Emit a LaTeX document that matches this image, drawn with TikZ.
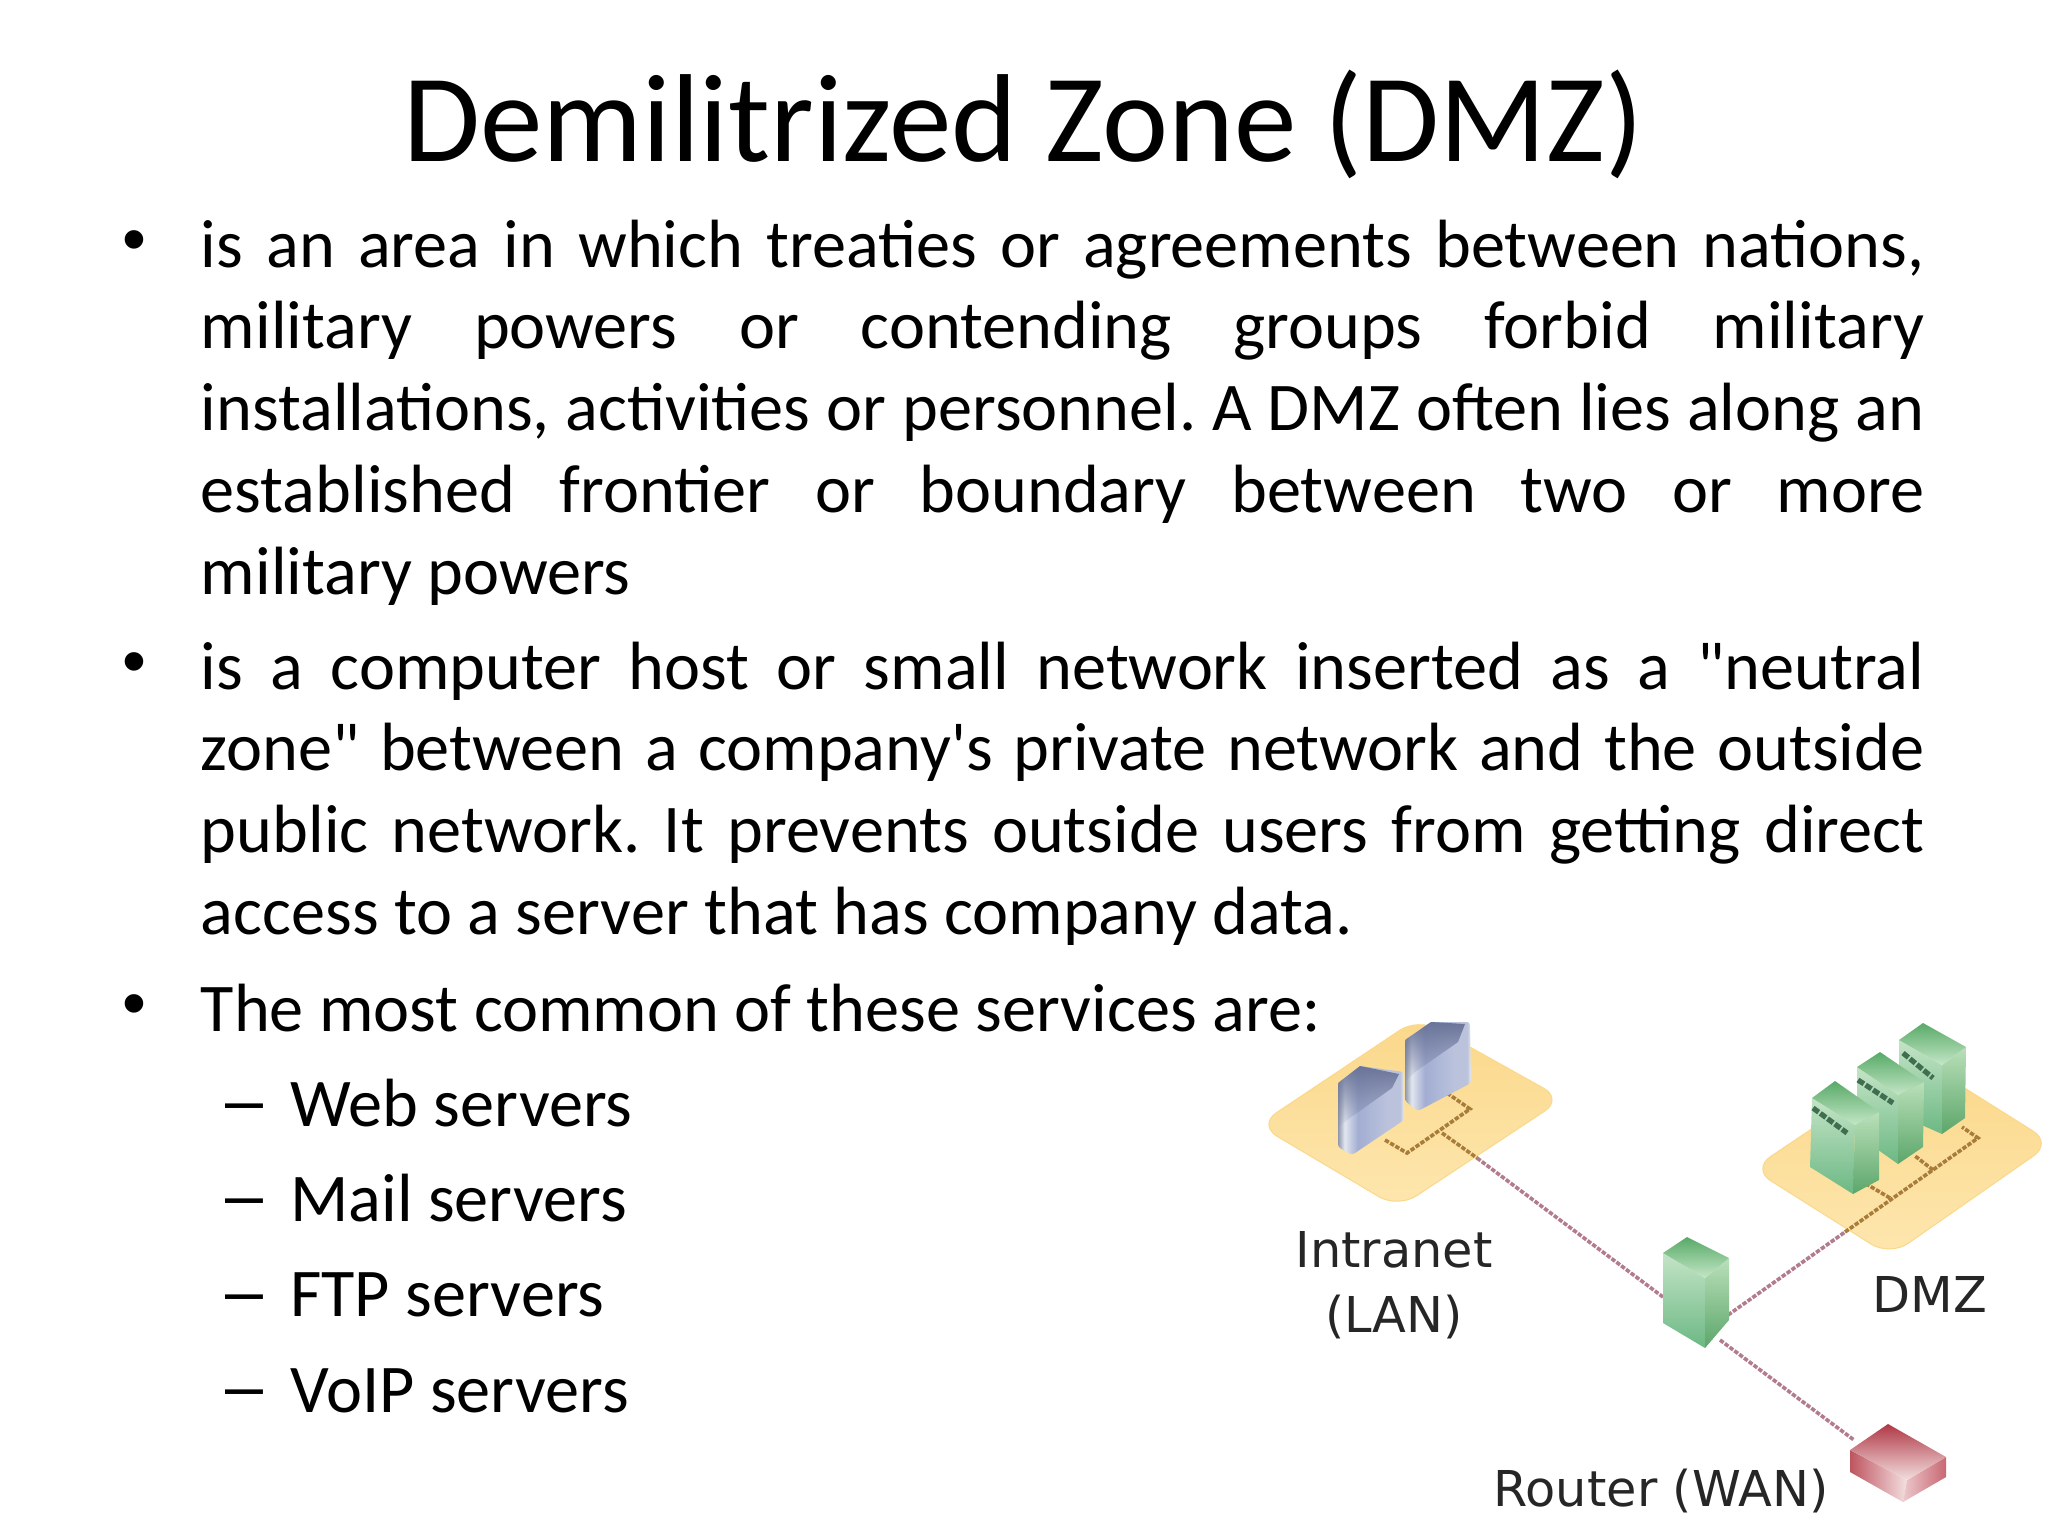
\documentclass[tikz,border=0pt]{standalone}
\usepackage{fontspec}
\setmainfont{Carlito}[Ligatures={Common,TeXOff}]
\newfontfamily\labelfont{DejaVu Sans}
\newfontfamily\markfont{Liberation Sans}
\usetikzlibrary{calc,fadings}
\definecolor{padtop}{HTML}{FBD88A}
\definecolor{padbot}{HTML}{FDE6AE}
\definecolor{wirein}{HTML}{A87C3A}
\definecolor{wireout}{HTML}{B27C8E}
\definecolor{slotgreen}{HTML}{3F6F50}
\definecolor{lavA}{HTML}{8F98AC}
\definecolor{lavB}{HTML}{E2E6EE}
\definecolor{lavC}{HTML}{A2ADD2}
\definecolor{lavD}{HTML}{BAC2DC}
\definecolor{lavE}{HTML}{E8EAF0}
\definecolor{lavdark}{HTML}{6A7498}
\pgfdeclarehorizontalshading{lavbody}{100bp}{
  color(0bp)=(lavA); color(25bp)=(lavA); color(30bp)=(lavB); color(40bp)=(lavC);
  color(62bp)=(lavD); color(72bp)=(lavD); color(75bp)=(lavE); color(100bp)=(lavE)}
\tikzset{
  x=0.5pt,y=-0.5pt,
  titletext/.style={anchor=base,inner sep=0pt,font=\fontsize{62.58}{70}\selectfont},
  paratext/.style={anchor=base west,inner sep=0pt,font=\fontsize{34.13}{41}\selectfont},
  marktext/.style={anchor=base west,inner sep=0pt,font=\markfont\fontsize{34.13}{41}\selectfont},
  netlabel/.style={anchor=center,inner sep=0pt,text=black!85,font=\labelfont\fontsize{24.7}{30}\selectfont},
  pad/.style={rounded corners=11pt,top color=padtop,bottom color=padbot,draw=padtop,line width=0.5pt},
  wirep/.style={wirein,line width=1.8pt,dash pattern=on 2.2pt off 0.8pt},
  wireq/.style={wireout,line width=1.8pt,dash pattern=on 2.2pt off 0.8pt},
  slot/.style={slotgreen,line width=2.6pt,dash pattern=on 3.5pt off 1pt},
}
\newcommand{\fullline}[1]{\hbox to 861.75pt{#1}}
\newcommand{\lastline}[1]{\hbox{#1}}
% green tower: lefttop, top, righttop, edge, leftbottom, bottom, rightbottom
\newcommand{\greentower}[7]{%
  \shade[top color={rgb,255:red,196;green,228;blue,198},bottom color={rgb,255:red,108;green,184;blue,132}]
     #1 -- #4 -- #6 -- #5 -- cycle;
  \shade[top color={rgb,255:red,186;green,224;blue,186},bottom color={rgb,255:red,92;green,166;blue,106}]
     #4 -- #3 -- #7 -- #6 -- cycle;
  \shade[top color={rgb,255:red,88;green,170;blue,104},bottom color={rgb,255:red,196;green,230;blue,198}]
     #1 -- #2 -- #3 -- #4 -- cycle;
}
% blue tower: body outline (6 points), then outline of its darker cap (6 points)
\newcommand{\bluetower}[2]{%
  \shade[shading=lavbody,rounded corners=1.5pt] #1 -- cycle;
  \fill[lavdark,path fading=south] #2 -- cycle;
}
\begin{document}
\begin{tikzpicture}
\useasboundingbox (0,0) rectangle (2048,1536);
\fill[white] (0,0) rectangle (2048,1536);

% Title
\node[titletext] (title) at (1023.5,161) {Demilitrized Zone (DMZ)};

% Body
\node[marktext] (b1) at (122,262) {•};
\node[paratext] (p1) at (200.5,267) {\frenchspacing\vtop{\baselineskip=40.95pt
  \fullline{is an area in which treaties or agreements between nations,}
  \fullline{military powers or contending groups forbid military}
  \fullline{installations, activities or personnel. A DMZ often lies along an}
  \fullline{established frontier or boundary between two or more}
  \lastline{military powers}}};
\node[marktext] (b2) at (122,684) {•};
\node[paratext] (p2) at (200.5,689) {\frenchspacing\vtop{\baselineskip=40.95pt
  \fullline{is a computer host or small network inserted as a "neutral}
  \fullline{zone" between a company's private network and the outside}
  \fullline{public network. It prevents outside users from getting direct}
  \lastline{access to a server that has company data.}}};
\node[marktext] (b3) at (122,1026) {•};
\node[paratext] (p3) at (200.5,1031) {The most common of these services are:};
\node[marktext] (d1) at (225,1123) {–};
\node[paratext] (s1) at (290,1126) {Web servers};
\node[marktext] (d2) at (225,1218) {–};
\node[paratext] (s2) at (290,1221.3) {Mail servers};
\node[marktext] (d3) at (225,1314) {–};
\node[paratext] (s3) at (290,1316.7) {FTP servers};
\node[marktext] (d4) at (225,1409) {–};
\node[paratext] (s4) at (290,1412) {VoIP servers};

% Zones
\draw[pad] (1258,1125) -- (1418,1018) -- (1563,1099) -- (1398,1208) -- cycle;
\draw[pad] (1752,1169) -- (1917,1058) -- (2052,1143) -- (1890,1256) -- cycle;

% Named junctions of the network
\coordinate (fwleft) at (1663,1297);
\coordinate (fwright) at (1728,1315);
\coordinate (fwbottom) at (1720,1340);
\coordinate (lanedge) at (1477,1158);
\coordinate (lanjoin) at (1442,1133);
\coordinate (lanbend) at (1470,1109);
\coordinate (lanlow) at (1407,1153);
\coordinate (lansa) at (1385,1140);
\coordinate (lansb) at (1447,1093);
\coordinate (dmzedge) at (1845,1232);
\coordinate (dmzja) at (1890,1198);
\coordinate (dmzjb) at (1933,1170);
\coordinate (dmzbend) at (1978,1138);
\coordinate (dmzsa) at (1868,1185);
\coordinate (dmzsb) at (1915,1156);
\coordinate (dmzsc) at (1962,1127);
\coordinate (routertop) at (1854,1440);

% Wires
\draw[wireq] (lanedge) -- (fwleft);
\draw[wireq] (fwright) -- (dmzedge);
\draw[wireq] (fwbottom) -- (routertop);
\draw[wirep] (lansb) -- (lanbend) -- (lanlow) -- (lansa);
\draw[wirep] (lanjoin) -- (lanedge);
\draw[wirep] (dmzedge) -- (dmzbend) -- (dmzsc);
\draw[wirep] (dmzja) -- (dmzsa);
\draw[wirep] (dmzjb) -- (dmzsb);

% LAN servers
\bluetower{(1405,1040) -- (1431,1022) -- (1470,1022) -- (1471,1083) -- (1418,1111) -- (1405,1101)}
          {(1405,1040) -- (1431,1022) -- (1465,1024) -- (1458,1042) -- (1415,1072) -- (1405,1082)}
\bluetower{(1338,1083) -- (1360,1066) -- (1404,1072) -- (1404,1120) -- (1352,1155) -- (1338,1147)}
          {(1338,1083) -- (1360,1066) -- (1399,1074) -- (1392,1088) -- (1350,1118) -- (1338,1128)}

% DMZ servers
\greentower{(1899,1040)}{(1923,1023)}{(1966,1047)}{(1942,1065)}{(1899,1115)}{(1942,1134)}{(1965,1118)}
\draw[slot] (1903,1053) -- (1933,1078);
\greentower{(1857,1067)}{(1880,1052)}{(1924,1082)}{(1898,1095)}{(1857,1135)}{(1898,1164)}{(1923,1147)}
\draw[slot] (1858,1080) -- (1893,1103);
\greentower{(1812,1098)}{(1835,1081)}{(1879,1112)}{(1855,1125)}{(1810,1167)}{(1853,1194)}{(1879,1180)}
\draw[slot] (1813,1108) -- (1847,1133);

% Firewall
\greentower{(1663,1253)}{(1687,1237)}{(1729,1258)}{(1705,1278)}{(1663,1323)}{(1705,1348)}{(1729,1320)}

% Router
\shade[left color={rgb,255:red,190;green,84;blue,94},right color={rgb,255:red,244;green,224;blue,226}]
  (1850,1450) -- (1907,1480) -- (1903,1502) -- (1850,1472) -- cycle;
\shade[left color={rgb,255:red,236;green,200;blue,204},right color={rgb,255:red,200;green,104;blue,114}]
  (1907,1480) -- (1946,1457) -- (1946,1477) -- (1903,1502) -- cycle;
\shade[top color={rgb,255:red,176;green,56;blue,70},bottom color={rgb,255:red,242;green,222;blue,222}]
  (1850,1450) -- (1888,1424) -- (1946,1457) -- (1907,1480) -- cycle;

% Labels
\node[netlabel] (lanA) at (1394,1250) {Intranet};
\node[netlabel] (lanB) at (1394,1317) {(LAN)};
\node[netlabel] (dmz) at (1930,1294) {DMZ};
\node[netlabel] (wan) at (1661,1491) {Router (WAN)};
\end{tikzpicture}
\end{document}
